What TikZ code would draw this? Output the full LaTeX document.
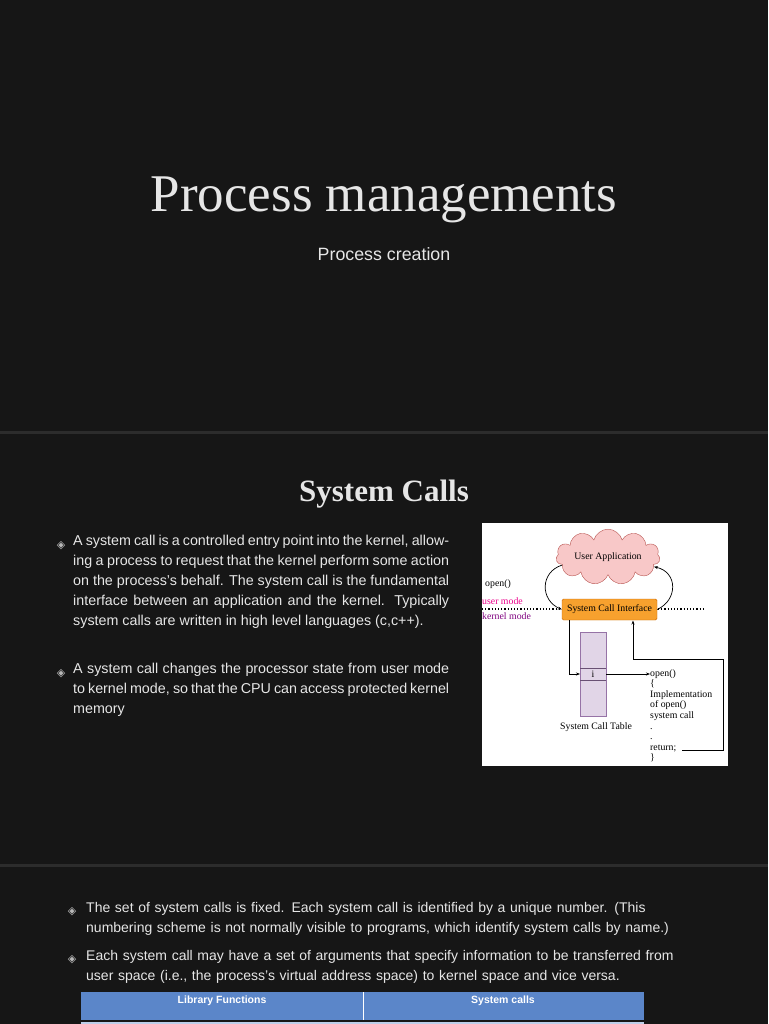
\documentclass[tikz,border=0pt]{standalone}
\usepackage{fontspec}
\setmainfont{Liberation Serif}
\setsansfont{Liberation Sans}
\newfontfamily\dv{DejaVu Sans}
\usetikzlibrary{shapes.symbols,arrows.meta}
\definecolor{bgd}{HTML}{161616}
\definecolor{sep}{HTML}{2C2C2C}
\definecolor{txt}{HTML}{E6E6E6}
\definecolor{cloudf}{HTML}{F8C8C8}
\definecolor{cloudd}{HTML}{B85450}
\definecolor{orng}{HTML}{F7A12E}
\definecolor{tbl}{HTML}{E1D5E7}
\definecolor{tbld}{HTML}{9673A6}
\definecolor{hdr}{HTML}{5B86C9}
\newcommand{\nohy}{\hyphenpenalty=10000\relax\exhyphenpenalty=10000\relax}
\tikzset{
 body/.style={font=\sffamily\fontsize{14.3}{20}\selectfont, text=txt, anchor=north west, inner sep=0pt, align=justify},
 bul/.style={font=\dv\fontsize{11}{11}\selectfont, text=txt!80!black, inner sep=0pt},
 dia/.style={font=\fontsize{9.8}{11}\selectfont, inner sep=0pt},
 arr/.style={-{Stealth[length=4pt]}, black, line width=0.7pt}
}
\begin{document}
\begin{tikzpicture}[x=1pt,y=-1pt]
\useasboundingbox (0,0) rectangle (768,1024);
\fill[sep] (0,0) rectangle (768,1024);
\fill[bgd] (0,0) rectangle (768,431);
\fill[bgd] (0,434) rectangle (768,864);
\fill[bgd] (0,867) rectangle (768,1024);
% slide 1
\node[text=txt, font=\fontsize{53}{58}\selectfont] (t1) at (384,200) {Process managements};
\node[text=txt, font=\sffamily\fontsize{17.8}{20}\selectfont] (t2) at (384,254) {Process creation};
% slide 2
\node[text=txt, font=\bfseries\fontsize{31}{34}\selectfont] (t3) at (384,494) {System Calls};
\node[bul] (b1) at (61,546) {◈};
\node[body, text width=376pt] (p1) at (73,535) {\nohy A system call is a controlled entry point into the kernel, allowing a process to request that the kernel perform some action on the process's behalf. The system call is the fundamental interface between an application and the kernel. Typically system calls are written in high level languages (c,c++).};
\node[bul] (b2) at (61,674) {◈};
\node[body, text width=376pt] (p2) at (73,663) {\nohy A system call changes the processor state from user mode to kernel mode, so that the CPU can access protected kernel memory};
% diagram
\fill[white] (482,523) rectangle (728,766);
\node[cloud, cloud puffs=11, aspect=2.6, draw=cloudd, fill=cloudf, minimum width=104pt, minimum height=44pt, dia] (ua) at (608,557) {User Application};
\draw[dotted, line width=1.2pt] (482,609) -- (703,609);
\node[draw=orange!80!black, fill=orng, rounded corners=1.5pt, minimum width=95pt, minimum height=21pt, dia] (sci) at (609.5,609.5) {System Call Interface};
\node[dia, anchor=west] (op) at (485,584) {open()};
\node[dia, anchor=west, text=magenta] (um) at (482,601) {user mode};
\node[dia, anchor=west, text=violet] (km) at (482,616) {kernel mode};
\draw[arr] (ua.190) .. controls (540,572) and (540,600) .. (sci.west);
\draw[arr] (sci.east) .. controls (678,600) and (678,572) .. (ua.-12);
\draw[draw=tbld, fill=tbl, line width=0.7pt] (580,632) rectangle (606,716);
\draw[tbld!70!black, line width=0.7pt] (580,668) -- (606,668) (580,680) -- (606,680);
\node[dia] (ci) at (593,674) {i};
\coordinate (cl) at (580,674);
\coordinate (cr) at (606,674);
\node[dia] (sct) at (596,727) {System Call Table};
\node[dia, anchor=north west, align=left, font=\fontsize{9.8}{10.6}\selectfont] (code) at (650,669) {open()\\\{\\Implementation\\of open()\\system call\\.\\.\\return;\\\}};
\coordinate (oc) at (650,674);
\coordinate (ret) at (682,750);
\draw[arr] (569,620) |- (cl);
\draw[arr] (cr) -- (oc);
\draw[arr] (ret) -- (723,750) |- (633,659) -- (633,620.5);
% slide 3
\node[bul] (b3) at (72,912) {◈};
\node[body, align=left, font=\sffamily\fontsize{14}{20}\selectfont, text width=600pt] (p3) at (86,902) {The set of system calls is fixed. Each system call is identified by a unique number. (This\\numbering scheme is not normally visible to programs, which identify system calls by name.)};
\node[bul] (b4) at (72,960) {◈};
\node[body, align=left, font=\sffamily\fontsize{14}{20}\selectfont, text width=600pt] (p4) at (86,950) {Each system call may have a set of arguments that specify information to be transferred from\\user space (i.e., the process's virtual address space) to kernel space and vice versa.};
\fill[hdr] (81,992) rectangle (644,1020);
\draw[white, line width=1pt] (363,992) -- (363,1020);
\fill[hdr!40!white] (81,1022) rectangle (644,1024);
\node[text=white, font=\sffamily\bfseries\fontsize{10.5}{11}\selectfont] (h1) at (222,1001) {Library Functions};
\node[text=white, font=\sffamily\bfseries\fontsize{10.5}{11}\selectfont] (h2) at (503,1001) {System calls};
\end{tikzpicture}
\end{document}
